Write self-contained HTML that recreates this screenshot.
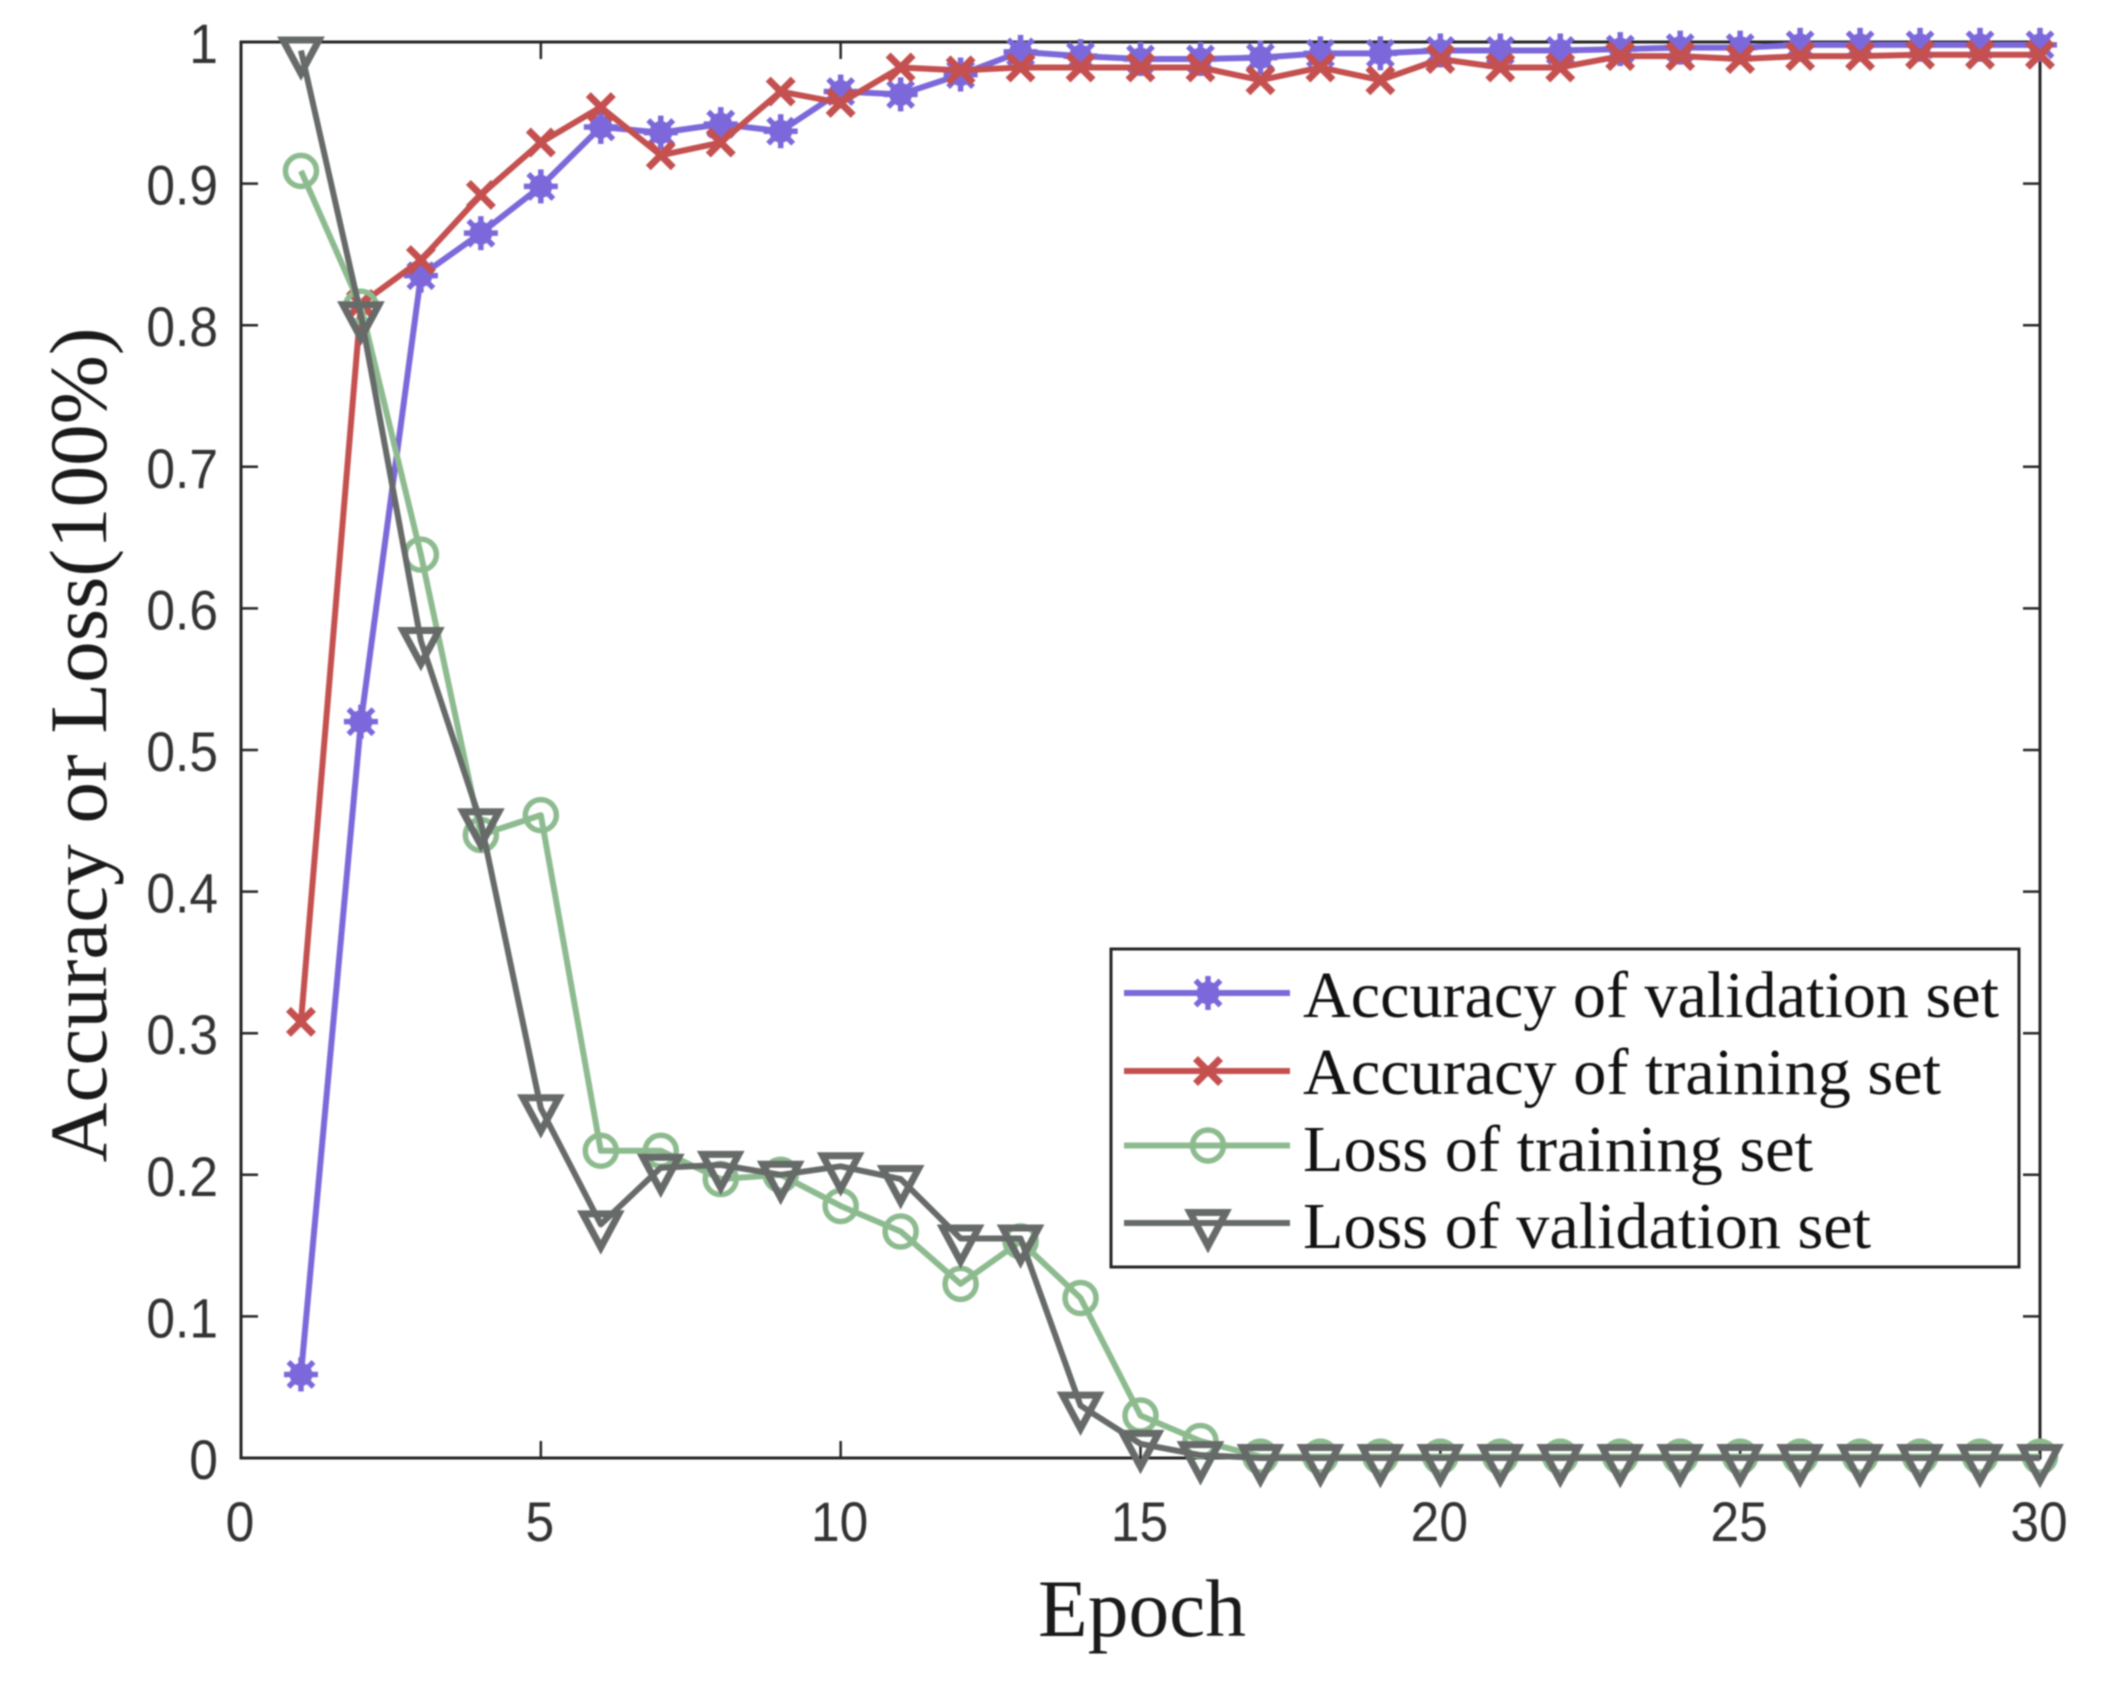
<!DOCTYPE html>
<html>
<head>
<meta charset="utf-8">
<title>Accuracy and loss by epoch</title>
<style>
html,body{margin:0;padding:0;background:#fff;}
svg{display:block;filter:blur(0.7px);}
.tick{font-family:"Liberation Sans",Arial,sans-serif;font-size:56px;fill:#333;}
.title{font-family:"Liberation Serif","Times New Roman",serif;fill:#1a1a1a;}
.leg{font-family:"Liberation Serif","Times New Roman",serif;font-size:66px;fill:#111;}
</style>
</head>
<body>
<svg id="chart" xmlns="http://www.w3.org/2000/svg" width="2102" height="1686" viewBox="0 0 2102 1686"></svg>
<script>
const epochs = [1,2,3,4,5,6,7,8,9,10,11,12,13,14,15,16,17,18,19,20,21,22,23,24,25,26,27,28,29,30];
const accuracyValidation = [0.059,0.52,0.835,0.865,0.898,0.94,0.936,0.942,0.937,0.965,0.963,0.977,0.993,0.99,0.988,0.988,0.989,0.992,0.992,0.994,0.994,0.994,0.995,0.996,0.996,0.998,0.998,0.998,0.998,0.998];
const accuracyTraining = [0.308,0.815,0.846,0.892,0.929,0.954,0.92,0.929,0.965,0.957,0.982,0.98,0.982,0.982,0.982,0.982,0.973,0.982,0.973,0.988,0.982,0.982,0.99,0.99,0.988,0.99,0.99,0.991,0.991,0.991];
const lossTraining = [0.909,0.813,0.638,0.44,0.454,0.217,0.217,0.197,0.2,0.178,0.16,0.123,0.153,0.113,0.03,0.012,0.001,0.001,0.001,0.001,0.001,0.001,0.001,0.001,0.001,0.001,0.001,0.001,0.001,0.001];
const lossValidation = [0.994,0.807,0.577,0.449,0.247,0.165,0.205,0.207,0.2,0.206,0.197,0.155,0.155,0.037,0.01,0.002,0,0,0,0,0,0,0,0,0,0,0,0,0,0];
const xTicks = [0,5,10,15,20,25,30];
const yTicks = [0,0.1,0.2,0.3,0.4,0.5,0.6,0.7,0.8,0.9,1];
const yTickLabels = ["0","0.1","0.2","0.3","0.4","0.5","0.6","0.7","0.8","0.9","1"];
const legendLabels = ["Accuracy of validation set","Accuracy of training set","Loss of training set","Loss of validation set"];

const NS = "http://www.w3.org/2000/svg";
const svg = document.getElementById("chart");
const L = 241, R = 2040, T = 42, B = 1458;
function xScale(v){ return L + (v / 30) * (R - L); }
function yScale(v){ return B - v * (B - T); }

function make(tag, attrs, parent){
  const el = document.createElementNS(NS, tag);
  for (const k in attrs) el.setAttribute(k, attrs[k]);
  (parent || svg).appendChild(el);
  return el;
}

function narrowText(t){
  const w = t.getComputedTextLength();
  t.setAttribute("textLength", (w * 0.92).toFixed(1));
  t.setAttribute("lengthAdjust", "spacingAndGlyphs");
}

function drawMarker(kind, cx, cy, color, parent){
  const g = make("g", {}, parent);
  if (kind === "asterisk"){
    make("circle", {cx:cx, cy:cy, r:11.5, fill:color}, g);
    const a = 17, d = 12.5;
    const segs = [[0,-a,0,a],[-a,0,a,0],[-d,-d,d,d],[-d,d,d,-d]];
    segs.forEach(function(s){
      make("line", {x1:cx+s[0], y1:cy+s[1], x2:cx+s[2], y2:cy+s[3], stroke:color, "stroke-width":5.5}, g);
    });
  } else if (kind === "cross"){
    const c = 12.5;
    make("line", {x1:cx-c, y1:cy-c, x2:cx+c, y2:cy+c, stroke:color, "stroke-width":7}, g);
    make("line", {x1:cx-c, y1:cy+c, x2:cx+c, y2:cy-c, stroke:color, "stroke-width":7}, g);
  } else if (kind === "circle"){
    make("circle", {cx:cx, cy:cy, r:15.5, fill:"none", stroke:color, "stroke-width":5.5}, g);
  } else {
    const pts = [[cx-18,cy-10.5],[cx+18,cy-10.5],[cx,cy+23]].map(function(p){ return p.join(","); }).join(" ");
    make("polygon", {points:pts, fill:"none", stroke:color, "stroke-width":7, "stroke-linejoin":"miter"}, g);
  }
  return g;
}

/* plot frame */
const frame = make("rect", {x:L, y:T, width:R-L, height:B-T, fill:"#fff", stroke:"#262626", "stroke-width":3});



/* ticks and tick labels */
const xAxisGroup = make("g", {});


xTicks.forEach(function(v){
  const x = xScale(v);
  const m1 = make("line", {x1:x, y1:B, x2:x, y2:B-17, stroke:"#262626", "stroke-width":2.5}, xAxisGroup);
  
  
  const m2 = make("line", {x1:x, y1:T, x2:x, y2:T+17, stroke:"#262626", "stroke-width":2.5}, xAxisGroup);
  
  
  const t = make("text", {x:x-1, y:1541, "text-anchor":"middle", "class":"tick"}, xAxisGroup);
  
  
  t.textContent = String(v);
  narrowText(t);
});
const yAxisGroup = make("g", {});


yTicks.forEach(function(v, i){
  const y = yScale(v);
  const m1 = make("line", {x1:L, y1:y, x2:L+17, y2:y, stroke:"#262626", "stroke-width":2.5}, yAxisGroup);
  
  
  const m2 = make("line", {x1:R, y1:y, x2:R-17, y2:y, stroke:"#262626", "stroke-width":2.5}, yAxisGroup);
  
  
  const t = make("text", {x:218, y:y+21, "text-anchor":"end", "class":"tick"}, yAxisGroup);
  
  
  t.textContent = yTickLabels[i];
  narrowText(t);
});

/* series */
const seriesNames = ["accuracy-validation","accuracy-training","loss-training","loss-validation"];
const seriesValues = [accuracyValidation, accuracyTraining, lossTraining, lossValidation];
const seriesColors = ["#7c68da","#c4504f","#8dbb8f","#666a68"];
const seriesKinds = ["asterisk","cross","circle","triangle"];
seriesValues.forEach(function(vals, si){
  const g = make("g", {});
  
  
  const pts = epochs.map(function(e, i){ return xScale(e) + "," + yScale(vals[i]); }).join(" ");
  const line = make("polyline", {points:pts, fill:"none", stroke:seriesColors[si], "stroke-width":6, "stroke-linejoin":"round"}, g);
  
  
  epochs.forEach(function(e, i){
    const mk = drawMarker(seriesKinds[si], xScale(e), yScale(vals[i]), seriesColors[si], g);
    
    
  });
});

/* axis titles */
const xTitle = make("text", {x:1142, y:1636, "text-anchor":"middle", "class":"title", "font-size":82, textLength:208, lengthAdjust:"spacingAndGlyphs"});


xTitle.textContent = "Epoch";
const yTitle = make("text", {x:0, y:0, "text-anchor":"middle", "class":"title", "font-size":82, textLength:835, lengthAdjust:"spacingAndGlyphs", transform:"translate(106 745) rotate(-90)"});


yTitle.textContent = "Accuracy or Loss(100%)";

/* legend */
const legend = make("g", {});


const legendBox = make("rect", {x:1111, y:949, width:908, height:318, fill:"#fff", stroke:"#262626", "stroke-width":3}, legend);


const legendLineY = [993,1071,1145.5,1223];
const legendTextY = [1017,1094,1171,1248];
const legendTextLen = [696,638,510,568];
legendLabels.forEach(function(label, i){
  const row = make("g", {}, legend);
  
  
  make("line", {x1:1124, y1:legendLineY[i], x2:1290, y2:legendLineY[i], stroke:seriesColors[i], "stroke-width":6}, row);
  drawMarker(seriesKinds[i], 1208, legendLineY[i], seriesColors[i], row);
  const t = make("text", {x:1303, y:legendTextY[i], "class":"leg", textLength:legendTextLen[i], lengthAdjust:"spacingAndGlyphs"}, row);
  
  
  t.textContent = label;
});
</script>
</body>
</html>
